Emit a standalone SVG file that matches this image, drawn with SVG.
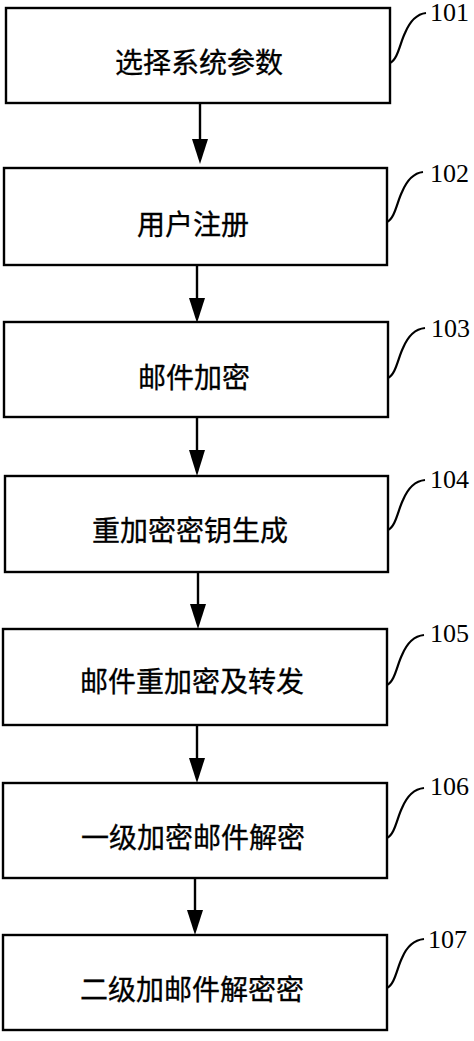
<svg xmlns="http://www.w3.org/2000/svg" width="474" height="1041" viewBox="0 0 474 1041">
<defs>
<style>
.box{fill:#fff;stroke:#000;stroke-width:2.4}
.t{font-family:"Liberation Sans","Noto Sans CJK SC",sans-serif;font-size:28px;fill:#000;text-anchor:middle;stroke:#000;stroke-width:0.3}
.num{font-family:"Liberation Serif","Times New Roman",serif;font-size:26px;fill:#000}
.ld{fill:none;stroke:#000;stroke-width:2.2}
.ar{stroke:#000;stroke-width:2.4;fill:none}
.ah{fill:#000}
</style>
</defs>
<rect width="474" height="1041" fill="#fff"/>
<g id="connectors">
<line class="ar" x1="200" y1="103" x2="200" y2="140"/><path class="ah" d="M192,139 L208,139 L200,164 Z"/>
<line class="ar" x1="197" y1="265" x2="197" y2="299"/><path class="ah" d="M189,298 L205,298 L197,323 Z"/>
<line class="ar" x1="197" y1="417" x2="197" y2="451"/><path class="ah" d="M189,450 L205,450 L197,476 Z"/>
<line class="ar" x1="198" y1="572" x2="198" y2="605"/><path class="ah" d="M190,604 L206,604 L198,629 Z"/>
<line class="ar" x1="197" y1="725" x2="197" y2="759"/><path class="ah" d="M189,758 L205,758 L197,783 Z"/>
<line class="ar" x1="195" y1="878" x2="195" y2="911"/><path class="ah" d="M187,910 L203,910 L195,935 Z"/>
</g>
<g id="n101">
<rect class="box" x="6" y="8" width="384" height="95"/>
<text class="t" x="199" y="73">选择系统参数</text>
<path class="ld" d="M390,63 c8,-4 10,-20 15,-30 c5,-12 12,-19 21,-20"/>
<text class="num" x="430" y="21">101</text>
</g>
<g id="n102">
<rect class="box" x="4" y="168" width="383" height="97"/>
<text class="t" x="193" y="235">用户注册</text>
<path class="ld" d="M387,222 c8,-4 10,-20 15,-30 c5,-12 12,-19 21,-20"/>
<text class="num" x="430" y="182">102</text>
</g>
<g id="n103">
<rect class="box" x="4" y="322" width="384" height="95"/>
<text class="t" x="194" y="388">邮件加密</text>
<path class="ld" d="M388,378 c8,-4 10,-20 15,-30 c5,-12 12,-19 22,-20"/>
<text class="num" x="431" y="337">103</text>
</g>
<g id="n104">
<rect class="box" x="5" y="476" width="383" height="96"/>
<text class="t" x="190" y="541">重加密密钥生成</text>
<path class="ld" d="M388,530 c8,-4 10,-20 15,-30 c5,-12 12,-19 22,-20"/>
<text class="num" x="430" y="488">104</text>
</g>
<g id="n105">
<rect class="box" x="3" y="629" width="384" height="96"/>
<text class="t" x="192" y="692">邮件重加密及转发</text>
<path class="ld" d="M387,685 c8,-4 10,-20 15,-30 c5,-12 12,-19 22,-20"/>
<text class="num" x="430" y="642">105</text>
</g>
<g id="n106">
<rect class="box" x="3" y="783" width="384" height="95"/>
<text class="t" x="193" y="848">一级加密邮件解密</text>
<path class="ld" d="M387,838 c8,-4 10,-20 15,-30 c5,-12 12,-19 22,-20"/>
<text class="num" x="430" y="795">106</text>
</g>
<g id="n107">
<rect class="box" x="3" y="935" width="384" height="95"/>
<text class="t" x="192" y="1000">二级加邮件解密密</text>
<path class="ld" d="M387,988 c8,-4 10,-20 15,-30 c5,-12 12,-18 22,-19"/>
<text class="num" x="428" y="948">107</text>
</g>
</svg>
